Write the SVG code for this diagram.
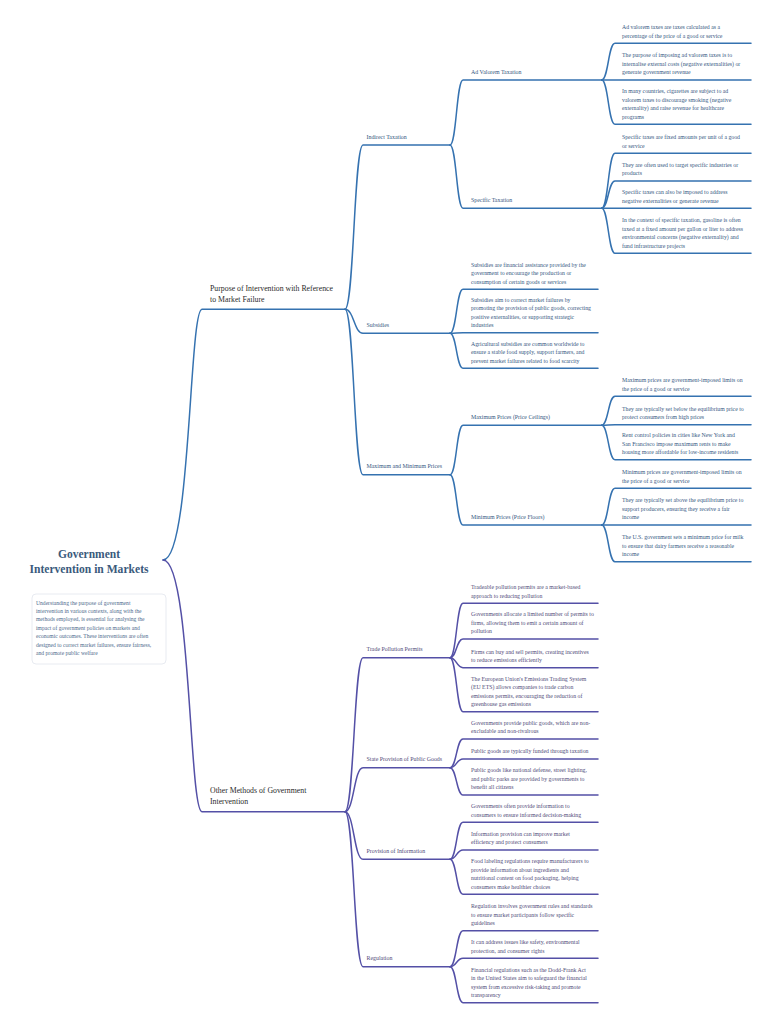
<svg xmlns="http://www.w3.org/2000/svg" width="768" height="1024" viewBox="0 0 768 1024">
<style>
.bg{fill:#ffffff}
.cb{fill:none;stroke:#3572b0;stroke-width:1.5;stroke-linecap:round}
.cp{fill:none;stroke:#5450a6;stroke-width:1.5;stroke-linecap:round}
text{font-family:"Liberation Serif","Times New Roman",serif}
.title{font-size:13.5px;font-weight:bold;fill:#3a5a7c;text-anchor:middle}
.desc{font-size:5.6px;fill:#4d6a8c}
.l1{font-size:7.8px;fill:#2a2a2a}
.l2b{font-size:5.9px;fill:#36587f}
.l2p{font-size:5.9px;fill:#504b78}
.lb{font-size:5.8px;fill:#36587f}
.lp{font-size:5.8px;fill:#504b78}
.box{fill:#ffffff;stroke:#e2e6ed;stroke-width:0.8}
</style>
<rect class="bg" x="0" y="0" width="768" height="1024"/>

<g id="connectors">
  <path class="cb" d="M163,560 C191,560 189,309.3 202,309.3 H345"/>
  <path class="cp" d="M163,560 C191,560 189,811.7 202,811.7 H345"/>
  <path class="cb" d="M345,309.3 C354,309.3 354,145 363,145 H450"/>
  <path class="cb" d="M345,309.3 C354,309.3 354,333.3 363,333.3 H450"/>
  <path class="cb" d="M345,309.3 C354,309.3 354,474.7 363,474.7 H450"/>
  <path class="cp" d="M345,811.7 C354,811.7 354,657.7 363,657.7 H450"/>
  <path class="cp" d="M345,811.7 C354,811.7 354,767.7 363,767.7 H450"/>
  <path class="cp" d="M345,811.7 C354,811.7 354,859.3 363,859.3 H450"/>
  <path class="cp" d="M345,811.7 C354,811.7 354,966.7 363,966.7 H450"/>
  <path class="cb" d="M450,145 C456.5,145 456.5,80 463,80 H601.7"/>
  <path class="cb" d="M450,145 C456.5,145 456.5,208.3 463,208.3 H601.7"/>
  <path class="cb" d="M450,333.3 C456.5,333.3 456.5,289.3 463,289.3 H598"/>
  <path class="cb" d="M450,333.3 C456.5,333.3 456.5,332.7 463,332.7 H598"/>
  <path class="cb" d="M450,333.3 C456.5,333.3 456.5,368.3 463,368.3 H598"/>
  <path class="cb" d="M450,474.7 C456.5,474.7 456.5,425.3 463,425.3 H601.7"/>
  <path class="cb" d="M450,474.7 C456.5,474.7 456.5,525 463,525 H601.7"/>
  <path class="cp" d="M450,657.7 C456.5,657.7 456.5,603.3 463,603.3 H598"/>
  <path class="cp" d="M450,657.7 C456.5,657.7 456.5,639 463,639 H598"/>
  <path class="cp" d="M450,657.7 C456.5,657.7 456.5,667.7 463,667.7 H598"/>
  <path class="cp" d="M450,657.7 C456.5,657.7 456.5,711.7 463,711.7 H598"/>
  <path class="cp" d="M450,767.7 C456.5,767.7 456.5,739 463,739 H598"/>
  <path class="cp" d="M450,767.7 C456.5,767.7 456.5,759 463,759 H598"/>
  <path class="cp" d="M450,767.7 C456.5,767.7 456.5,795 463,795 H598"/>
  <path class="cp" d="M450,859.3 C456.5,859.3 456.5,822.3 463,822.3 H598"/>
  <path class="cp" d="M450,859.3 C456.5,859.3 456.5,850 463,850 H598"/>
  <path class="cp" d="M450,859.3 C456.5,859.3 456.5,894.3 463,894.3 H598"/>
  <path class="cp" d="M450,966.7 C456.5,966.7 456.5,930.7 463,930.7 H598"/>
  <path class="cp" d="M450,966.7 C456.5,966.7 456.5,958.3 463,958.3 H598"/>
  <path class="cp" d="M450,966.7 C456.5,966.7 456.5,1002.7 463,1002.7 H598"/>
  <path class="cb" d="M601.7,80 C608.3,80 608.3,43.3 615,43.3 H751"/>
  <path class="cb" d="M601.7,80 C608.3,80 608.3,80 615,80 H751"/>
  <path class="cb" d="M601.7,80 C608.3,80 608.3,124.3 615,124.3 H751"/>
  <path class="cb" d="M601.7,208.3 C608.3,208.3 608.3,153.3 615,153.3 H751"/>
  <path class="cb" d="M601.7,208.3 C608.3,208.3 608.3,181 615,181 H751"/>
  <path class="cb" d="M601.7,208.3 C608.3,208.3 608.3,208.3 615,208.3 H751"/>
  <path class="cb" d="M601.7,208.3 C608.3,208.3 608.3,253.3 615,253.3 H751"/>
  <path class="cb" d="M601.7,425.3 C608.3,425.3 608.3,396.3 615,396.3 H751"/>
  <path class="cb" d="M601.7,425.3 C608.3,425.3 608.3,424.7 615,424.7 H751"/>
  <path class="cb" d="M601.7,425.3 C608.3,425.3 608.3,459.7 615,459.7 H751"/>
  <path class="cb" d="M601.7,525 C608.3,525 608.3,488.3 615,488.3 H751"/>
  <path class="cb" d="M601.7,525 C608.3,525 608.3,525 615,525 H751"/>
  <path class="cb" d="M601.7,525 C608.3,525 608.3,561.7 615,561.7 H751"/>
</g>

<g id="root">
  <text class="title" x="89" y="558"><tspan textLength="62" lengthAdjust="spacingAndGlyphs">Government</tspan></text>
  <text class="title" x="89" y="573"><tspan textLength="119" lengthAdjust="spacingAndGlyphs">Intervention in Markets</tspan></text>
  <rect class="box" x="32" y="594" width="134" height="70" rx="4"/>
  <text class="desc" x="36" y="604.5">
    <tspan x="36" y="604.5">Understanding the purpose of government</tspan>
    <tspan x="36" y="612.9">intervention in various contexts, along with the</tspan>
    <tspan x="36" y="621.3">methods employed, is essential for analysing the</tspan>
    <tspan x="36" y="629.7">impact of government policies on markets and</tspan>
    <tspan x="36" y="638.1">economic outcomes. These interventions are often</tspan>
    <tspan x="36" y="646.5">designed to correct market failures, ensure fairness,</tspan>
    <tspan x="36" y="654.9">and promote public welfare</tspan>
  </text>
</g>

<g id="purpose">
  <text class="l1"><tspan x="210" y="290.5">Purpose of Intervention with Reference</tspan><tspan x="210" y="301.5">to Market Failure</tspan></text>
</g>
<g id="other-methods">
  <text class="l1"><tspan x="210" y="792.5">Other Methods of Government</tspan><tspan x="210" y="803.5">Intervention</tspan></text>
</g>

<g id="indirect-taxation"><text class="l2b" x="366.5" y="138.5">Indirect Taxation</text></g>
<g id="subsidies"><text class="l2b" x="366.5" y="326.8">Subsidies</text></g>
<g id="max-min-prices"><text class="l2b" x="366.5" y="468.2">Maximum and Minimum Prices</text></g>
<g id="trade-pollution-permits"><text class="l2p" x="366.5" y="651.2">Trade Pollution Permits</text></g>
<g id="state-provision"><text class="l2p" x="366.5" y="761.2">State Provision of Public Goods</text></g>
<g id="provision-information"><text class="l2p" x="366.5" y="852.8">Provision of Information</text></g>
<g id="regulation"><text class="l2p" x="366.5" y="960.2">Regulation</text></g>

<g id="ad-valorem"><text class="l2b" x="471" y="74">Ad Valorem Taxation</text></g>
<g id="specific-taxation"><text class="l2b" x="471" y="202.3">Specific Taxation</text></g>
<g id="maximum-prices"><text class="l2b" x="471" y="419.3">Maximum Prices (Price Ceilings)</text></g>
<g id="minimum-prices"><text class="l2b" x="471" y="519">Minimum Prices (Price Floors)</text></g>

<g id="av1"><text class="lb"><tspan x="622" y="29.1">Ad valorem taxes are taxes calculated as a</tspan><tspan x="622" y="37.5">percentage of the price of a good or service</tspan></text></g>
<g id="av2"><text class="lb"><tspan x="622" y="57.4">The purpose of imposing ad valorem taxes is to</tspan><tspan x="622" y="65.8">internalise external costs (negative externalities) or</tspan><tspan x="622" y="74.2">generate government revenue</tspan></text></g>
<g id="av3"><text class="lb"><tspan x="622" y="93.3">In many countries, cigarettes are subject to ad</tspan><tspan x="622" y="101.7">valorem taxes to discourage smoking (negative</tspan><tspan x="622" y="110.1">externality) and raise revenue for healthcare</tspan><tspan x="622" y="118.5">programs</tspan></text></g>

<g id="sp1"><text class="lb"><tspan x="622" y="139.1">Specific taxes are fixed amounts per unit of a good</tspan><tspan x="622" y="147.5">or service</tspan></text></g>
<g id="sp2"><text class="lb"><tspan x="622" y="166.8">They are often used to target specific industries or</tspan><tspan x="622" y="175.2">products</tspan></text></g>
<g id="sp3"><text class="lb"><tspan x="622" y="194.1">Specific taxes can also be imposed to address</tspan><tspan x="622" y="202.5">negative externalities or generate revenue</tspan></text></g>
<g id="sp4"><text class="lb"><tspan x="622" y="222.3">In the context of specific taxation, gasoline is often</tspan><tspan x="622" y="230.7">taxed at a fixed amount per gallon or liter to address</tspan><tspan x="622" y="239.1">environmental concerns (negative externality) and</tspan><tspan x="622" y="247.5">fund infrastructure projects</tspan></text></g>

<g id="sub1"><text class="lb"><tspan x="471" y="266.7">Subsidies are financial assistance provided by the</tspan><tspan x="471" y="275.1">government to encourage the production or</tspan><tspan x="471" y="283.5">consumption of certain goods or services</tspan></text></g>
<g id="sub2"><text class="lb"><tspan x="471" y="301.7">Subsidies aim to correct market failures by</tspan><tspan x="471" y="310.1">promoting the provision of public goods, correcting</tspan><tspan x="471" y="318.5">positive externalities, or supporting strategic</tspan><tspan x="471" y="326.9">industries</tspan></text></g>
<g id="sub3"><text class="lb"><tspan x="471" y="345.7">Agricultural subsidies are common worldwide to</tspan><tspan x="471" y="354.1">ensure a stable food supply, support farmers, and</tspan><tspan x="471" y="362.5">prevent market failures related to food scarcity</tspan></text></g>

<g id="max1"><text class="lb"><tspan x="622" y="382.1">Maximum prices are government-imposed limits on</tspan><tspan x="622" y="390.5">the price of a good or service</tspan></text></g>
<g id="max2"><text class="lb"><tspan x="622" y="410.5">They are typically set below the equilibrium price to</tspan><tspan x="622" y="418.9">protect consumers from high prices</tspan></text></g>
<g id="max3"><text class="lb"><tspan x="622" y="437.1">Rent control policies in cities like New York and</tspan><tspan x="622" y="445.5">San Francisco impose maximum rents to make</tspan><tspan x="622" y="453.9">housing more affordable for low-income residents</tspan></text></g>

<g id="min1"><text class="lb"><tspan x="622" y="474.1">Minimum prices are government-imposed limits on</tspan><tspan x="622" y="482.5">the price of a good or service</tspan></text></g>
<g id="min2"><text class="lb"><tspan x="622" y="502.4">They are typically set above the equilibrium price to</tspan><tspan x="622" y="510.8">support producers, ensuring they receive a fair</tspan><tspan x="622" y="519.2">income</tspan></text></g>
<g id="min3"><text class="lb"><tspan x="622" y="539.1">The U.S. government sets a minimum price for milk</tspan><tspan x="622" y="547.5">to ensure that dairy farmers receive a reasonable</tspan><tspan x="622" y="555.9">income</tspan></text></g>

<g id="tr1"><text class="lp"><tspan x="471" y="589.1">Tradeable pollution permits are a market-based</tspan><tspan x="471" y="597.5">approach to reducing pollution</tspan></text></g>
<g id="tr2"><text class="lp"><tspan x="471" y="616.4">Governments allocate a limited number of permits to</tspan><tspan x="471" y="624.8">firms, allowing them to emit a certain amount of</tspan><tspan x="471" y="633.2">pollution</tspan></text></g>
<g id="tr3"><text class="lp"><tspan x="471" y="653.5">Firms can buy and sell permits, creating incentives</tspan><tspan x="471" y="661.9">to reduce emissions efficiently</tspan></text></g>
<g id="tr4"><text class="lp"><tspan x="471" y="680.7">The European Union's Emissions Trading System</tspan><tspan x="471" y="689.1">(EU ETS) allows companies to trade carbon</tspan><tspan x="471" y="697.5">emissions permits, encouraging the reduction of</tspan><tspan x="471" y="705.9">greenhouse gas emissions</tspan></text></g>

<g id="st1"><text class="lp"><tspan x="471" y="724.8">Governments provide public goods, which are non-</tspan><tspan x="471" y="733.2">excludable and non-rivalrous</tspan></text></g>
<g id="st2"><text class="lp"><tspan x="471" y="753.2">Public goods are typically funded through taxation</tspan></text></g>
<g id="st3"><text class="lp"><tspan x="471" y="772.4">Public goods like national defense, street lighting,</tspan><tspan x="471" y="780.8">and public parks are provided by governments to</tspan><tspan x="471" y="789.2">benefit all citizens</tspan></text></g>

<g id="pr1"><text class="lp"><tspan x="471" y="808.1">Governments often provide information to</tspan><tspan x="471" y="816.5">consumers to ensure informed decision-making</tspan></text></g>
<g id="pr2"><text class="lp"><tspan x="471" y="835.8">Information provision can improve market</tspan><tspan x="471" y="844.2">efficiency and protect consumers</tspan></text></g>
<g id="pr3"><text class="lp"><tspan x="471" y="863.3">Food labeling regulations require manufacturers to</tspan><tspan x="471" y="871.7">provide information about ingredients and</tspan><tspan x="471" y="880.1">nutritional content on food packaging, helping</tspan><tspan x="471" y="888.5">consumers make healthier choices</tspan></text></g>

<g id="re1"><text class="lp"><tspan x="471" y="908.1">Regulation involves government rules and standards</tspan><tspan x="471" y="916.5">to ensure market participants follow specific</tspan><tspan x="471" y="924.9">guidelines</tspan></text></g>
<g id="re2"><text class="lp"><tspan x="471" y="944.1">It can address issues like safety, environmental</tspan><tspan x="471" y="952.5">protection, and consumer rights</tspan></text></g>
<g id="re3"><text class="lp"><tspan x="471" y="971.7">Financial regulations such as the Dodd-Frank Act</tspan><tspan x="471" y="980.1">in the United States aim to safeguard the financial</tspan><tspan x="471" y="988.5">system from excessive risk-taking and promote</tspan><tspan x="471" y="996.9">transparency</tspan></text></g>
</svg>
